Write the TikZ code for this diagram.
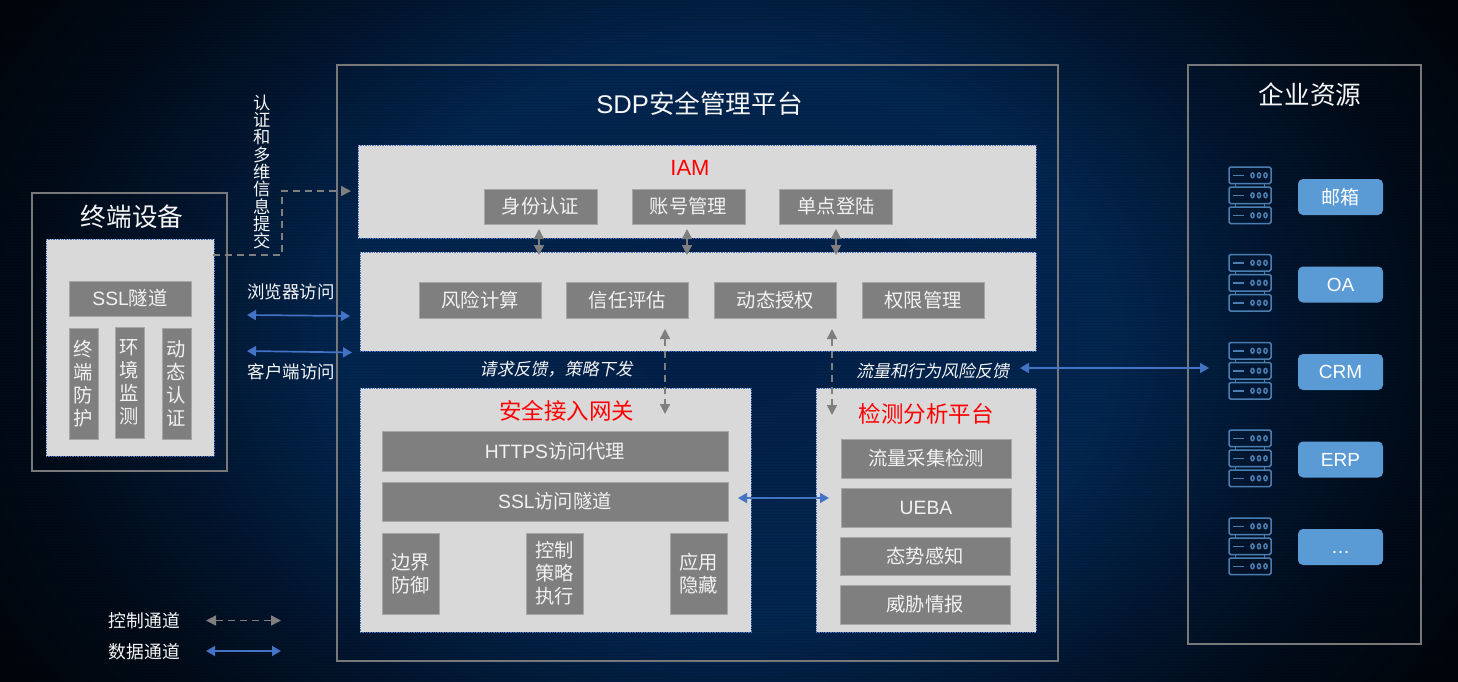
\documentclass[tikz,border=0pt]{standalone}
\usepackage{fontspec}
\setmainfont{Liberation Sans}
\newfontfamily\cjk{Noto Sans CJK SC}
\newfontfamily\cjkit[FakeSlant=0.2]{Noto Sans CJK SC}
\usetikzlibrary{arrows.meta,calc}
\definecolor{bgA}{HTML}{022048}
\definecolor{bgB}{HTML}{022650}
\definecolor{bgC}{HTML}{021630}
\definecolor{bgE}{HTML}{010B18}
\definecolor{bgD}{HTML}{00050C}
\definecolor{boxgray}{HTML}{7F7F7F}
\definecolor{framegray}{HTML}{787878}
\definecolor{lightbox}{HTML}{D9D9D9}
\definecolor{itemedge}{HTML}{A6A6A6}
\definecolor{dotblue}{HTML}{4472C4}
\definecolor{databl}{HTML}{4472C4}
\definecolor{btnblue}{HTML}{5B9BD5}
\definecolor{srvblue}{HTML}{4A7EB0}
\pgfdeclareradialshading{bgshade}{\pgfpoint{0bp}{0bp}}{color(0bp)=(bgA); color(13bp)=(bgB); color(19bp)=(bgC); color(24bp)=(bgE); color(29bp)=(bgD); color(50bp)=(bgD)}
\newcommand{\fs}[1]{\fontsize{#1}{#1}\selectfont}
\newcommand{\fsb}[2]{\fontsize{#1}{#2}\selectfont\lineskiplimit=-8pt}
\tikzset{
  x=1pt,y=-1pt,
  frame/.style={draw=framegray,line width=1.4pt,fill=none,inner sep=0pt,outer sep=0pt},
  panel/.style={draw=dotblue,densely dotted,line width=0.7pt,fill=lightbox,inner sep=0pt,outer sep=0pt},
  item/.style={draw=itemedge,line width=0.4pt,fill=boxgray,text=white!90!gray,inner sep=0pt,outer sep=0pt,align=center},
  btn/.style={fill=btnblue,rounded corners=5pt,text=white,inner sep=0pt,outer sep=0pt,minimum width=85pt,minimum height=36pt,font=\fs{19}},
  lbl/.style={text=white!92!gray,inner sep=0pt,outer sep=0pt,align=center},
  redtitle/.style={text=red,inner sep=0pt,outer sep=0pt},
  ctrl/.style={draw=boxgray,line width=1.5pt,dash pattern=on 7pt off 5pt,{Triangle[length=10pt,width=10pt,fill=boxgray,sep=0pt]}-{Triangle[length=10pt,width=10pt,fill=boxgray]}},
  ctrlone/.style={draw=boxgray,line width=1.5pt,dash pattern=on 7pt off 5pt,-{Triangle[length=10pt,width=10pt,fill=boxgray]}},
  datal/.style={draw=databl,line width=1.7pt,{Triangle[length=9pt,width=10pt,fill=databl]}-{Triangle[length=9pt,width=10pt,fill=databl]}},
  pics/server/.style={code={
    \begin{scope}[draw=srvblue,line width=1.5pt]
      \foreach \yy in {0,20,40}{
        \draw[rounded corners=1.5pt] (0,\yy) rectangle (42,\yy+16.5);
        \draw (4,\yy+8.3) -- (15,\yy+8.3);
        \foreach \xx in {23.5,30,36.5}{\draw (\xx,\yy+8.3) ellipse (1.6 and 2.4);}
      }
      \foreach \yy in {16.5,36.5}{\draw (6.5,\yy) -- (6.5,\yy+3.5); \draw (35.5,\yy) -- (35.5,\yy+3.5);}
    \end{scope}
  }}
}
\begin{document}
\begin{tikzpicture}
\useasboundingbox (0,0) rectangle (1458,681);
\begin{scope}
\clip (0,0) rectangle (1458,681);
\shade[shading=bgshade] (0,-200) rectangle (1458,881);
\foreach \yy in {1.5,4.5,...,681}{\draw[black,opacity=0.10,line width=1pt] (0,\yy) -- (1458,\yy);}
\end{scope}
% frames
\node[frame,minimum width=721pt,minimum height=596pt] (sdp) at (697.5,363) {};
\node[frame,minimum width=233pt,minimum height=579pt] (ent) at (1304.5,354.5) {};
\node[frame,minimum width=195pt,minimum height=278pt] (term) at (129.5,332) {};
% titles
\node[lbl,font=\fs{25.6}] (sdpt) at (699.5,104) {SDP{\cjk 安全管理平台}};
\node[lbl,font=\cjk\fs{25.6}] (entt) at (1310,94.5) {企业资源};
\node[lbl,font=\cjk\fs{25.6}] (termt) at (132,216.5) {终端设备};
% terminal
\node[panel,minimum width=168pt,minimum height=217pt] (tp) at (130,347.5) {};
\node[item,minimum width=122pt,minimum height=35pt,font=\fs{19.3}] (ssl) at (130,298.5) {SSL{\cjk 隧道}};
\node[item,minimum width=29pt,minimum height=111pt,font=\cjk\fsb{19.3}{23},text width=29pt] (t1) at (83.5,383.5) {终\\端\\防\\护};
\node[item,minimum width=29pt,minimum height=111pt,font=\cjk\fsb{19.3}{23},text width=29pt] (t2) at (129.5,382.5) {环\\境\\监\\测};
\node[item,minimum width=29pt,minimum height=111pt,font=\cjk\fsb{19.3}{23},text width=29pt] (t3) at (176.5,383.5) {动\\态\\认\\证};
% IAM
\node[panel,minimum width=678pt,minimum height=93pt] (iam) at (697,191.5) {};
\node[redtitle,font=\fs{22}] (iamt) at (690,167.5) {IAM};
\node[item,minimum width=113pt,minimum height=35pt,font=\cjk\fs{19.3}] (i1) at (540.5,206.5) {\raisebox{-1pt}{身份认证}};
\node[item,minimum width=113pt,minimum height=35pt,font=\cjk\fs{19.3}] (i2) at (688.5,206.5) {\raisebox{-1pt}{账号管理}};
\node[item,minimum width=113pt,minimum height=35pt,font=\cjk\fs{19.3}] (i3) at (836,206.5) {\raisebox{-1pt}{单点登陆}};
% middle
\node[panel,minimum width=676pt,minimum height=99pt] (mid) at (698,301.5) {};
\node[item,minimum width=122pt,minimum height=36pt,font=\cjk\fs{19.3}] (m1) at (480,300) {\raisebox{-1pt}{风险计算}};
\node[item,minimum width=122pt,minimum height=36pt,font=\cjk\fs{19.3}] (m2) at (627.5,300) {\raisebox{-1pt}{信任评估}};
\node[item,minimum width=122pt,minimum height=36pt,font=\cjk\fs{19.3}] (m3) at (775.5,300) {\raisebox{-1pt}{动态授权}};
\node[item,minimum width=122pt,minimum height=36pt,font=\cjk\fs{19.3}] (m4) at (923,300) {\raisebox{-1pt}{权限管理}};
% gateway
\node[panel,minimum width=391pt,minimum height=244pt] (gw) at (555.5,510) {};
\node[redtitle,font=\cjk\fs{22.5}] (gwt) at (566.5,411) {安全接入网关};
\node[item,minimum width=346pt,minimum height=40pt,font=\fs{19.3}] (g1) at (555,451) {HTTPS{\cjk 访问代理}};
\node[item,minimum width=346pt,minimum height=39pt,font=\fs{19.3}] (g2) at (555,501.5) {SSL{\cjk 访问隧道}};
\node[item,minimum width=57pt,minimum height=81pt,font=\cjk\fsb{19.3}{23},text width=57pt] (g3) at (410.5,573.5) {边界\\防御};
\node[item,minimum width=57pt,minimum height=81pt,font=\cjk\fsb{19.3}{23},text width=57pt] (g4) at (554.5,573.5) {控制\\策略\\执行};
\node[item,minimum width=57pt,minimum height=81pt,font=\cjk\fsb{19.3}{23},text width=57pt] (g5) at (698.5,573.5) {应用\\隐藏};
% detection
\node[panel,minimum width=220pt,minimum height=244pt] (det) at (926,510) {};
\node[redtitle,font=\cjk\fs{22.5}] (dett) at (926,414) {检测分析平台};
\node[item,minimum width=170pt,minimum height=39pt,font=\cjk\fs{19.3}] (d1) at (926,458.5) {流量采集检测};
\node[item,minimum width=170pt,minimum height=39pt,font=\fs{19.3}] (d2) at (926,507.5) {UEBA};
\node[item,minimum width=170pt,minimum height=38pt,font=\cjk\fs{19.3}] (d3) at (925,556) {态势感知};
\node[item,minimum width=170pt,minimum height=39pt,font=\cjk\fs{19.3}] (d4) at (925,604.5) {威胁情报};
% servers
\foreach \n/\yy in {1/167,2/254.5,3/342.5,4/430,5/518}{\pic at (1229,\yy) {server};}
\node[btn] (b1) at (1340.5,197) {\cjk 邮箱};
\node[btn] (b2) at (1340.5,284.5) {OA};
\node[btn] (b3) at (1340.5,372) {CRM};
\node[btn] (b4) at (1340.5,459.5) {ERP};
\node[btn] (b5) at (1340.5,547) {\vphantom{O}…};
% labels
\node[lbl,font=\cjk\fsb{17.3}{17.3},text width=20pt] (sub) at (262,172) {认\\证\\和\\多\\维\\信\\息\\提\\交};
\node[lbl,font=\cjk\fs{17.5}] (br) at (291,292) {浏览器访问};
\node[lbl,font=\cjk\fs{17.5}] (cl) at (291.5,372) {客户端访问};
\node[lbl,font=\cjkit\fs{17}] (fb1) at (556,369) {请求反馈，策略下发};
\node[lbl,font=\cjkit\fs{17}] (fb2) at (932.5,370.5) {流量和行为风险反馈};
\node[lbl,font=\cjk\fs{17.8}] (lg1) at (144.5,620.5) {控制通道};
\node[lbl,font=\cjk\fs{17.8}] (lg2) at (144.5,651.5) {数据通道};
% connector ends
\coordinate (lc1) at (206,620.5); \coordinate (lc2) at (281,620.5);
\coordinate (ld1) at (206,651); \coordinate (ld2) at (281,651);
\coordinate (c1) at (539,229); \coordinate (c2) at (539,255);
\coordinate (c3) at (687,229); \coordinate (c4) at (687,255);
\coordinate (c5) at (836,229); \coordinate (c6) at (836,255);
\coordinate (c7) at (665,329); \coordinate (c8) at (665,414);
\coordinate (c9) at (832,329); \coordinate (c10) at (832,415);
\coordinate (s1) at (213,255); \coordinate (s2) at (282,191); \coordinate (s3) at (351,191);
\coordinate (e1) at (247,315); \coordinate (e2) at (350,316);
\coordinate (e3) at (247,351); \coordinate (e4) at (352,352.5);
\coordinate (e5) at (1020,368); \coordinate (e6) at (1209,368);
\coordinate (e7) at (738,498); \coordinate (e8) at (829,498);
% connectors
\draw[ctrl] (c1) -- (c2);
\draw[ctrl] (c3) -- (c4);
\draw[ctrl] (c5) -- (c6);
\draw[ctrl] (c7) -- (c8);
\draw[ctrl] (c9) -- (c10);
\draw[ctrlone] (s1) -| (s2) -- (s3);
\draw[datal] (e1) -- (e2);
\draw[datal] (e3) -- (e4);
\draw[datal] (e5) -- (e6);
\draw[datal] (e7) -- (e8);
\draw[ctrl] (lc1) -- (lc2);
\draw[datal] (ld1) -- (ld2);
\end{tikzpicture}
\end{document}
